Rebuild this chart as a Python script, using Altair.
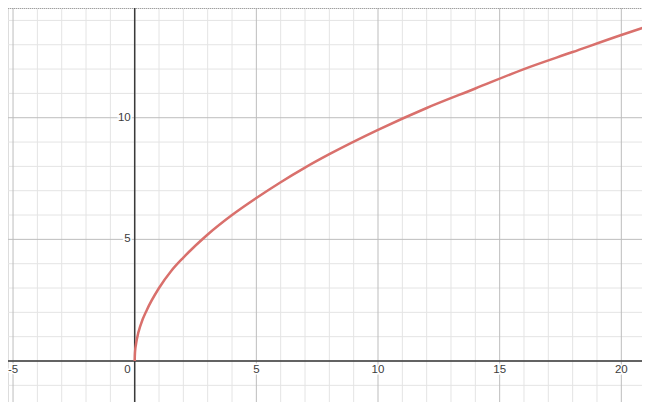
import altair as alt
import pandas as pd

# Curve points
curve_x = [0, 0.005, 0.02, 0.05, 0.1, 0.25, 0.5, 1, 1.5, 2, 3, 4, 5, 6, 7, 8, 10, 12, 14, 16, 18, 20, 21.2]
curve_y = [0, 0.2, 0.45, 0.67, 0.95, 1.5, 2.1, 3.0, 3.7, 4.25, 5.2, 6.0, 6.7, 7.35, 7.95, 8.5, 9.5, 10.4, 11.2, 12.0, 12.7, 13.4, 13.8]

x_tick_vals = [-5, 5, 10, 15, 20]
x_tick_labels = ["-5", "5", "10", "15", "20"]
y_tick_vals = [5, 10]
y_tick_labels = ["5", "10"]
origin_label = ["0"]

grid_x = list(range(-5, 21))
grid_y = list(range(-1, 15))

XDOM = [-5.207, 20.85]
YDOM = [-1.685, 14.51]

xs = alt.Scale(domain=XDOM, nice=False, zero=False)
ys = alt.Scale(domain=YDOM, nice=False, zero=False)

MAJOR = "#bdbdbd"
MINOR = "#e4e4e4"

gx_df = pd.DataFrame({"v": grid_x})
gy_df = pd.DataFrame({"v": grid_y})

def grid_color():
    return alt.condition("datum.v % 5 === 0", alt.value(MAJOR), alt.value(MINOR))

vgrid_minor = alt.Chart(gx_df).transform_filter("datum.v % 5 !== 0").mark_rule(strokeWidth=1, color=MINOR).encode(
    x=alt.X("v:Q", scale=xs, axis=None))
hgrid_minor = alt.Chart(gy_df).transform_filter("datum.v % 5 !== 0").mark_rule(strokeWidth=1, color=MINOR).encode(
    y=alt.Y("v:Q", scale=ys, axis=None))
vgrid_major = alt.Chart(gx_df).transform_filter("datum.v % 5 === 0").mark_rule(strokeWidth=1, color=MAJOR).encode(
    x=alt.X("v:Q", scale=xs, axis=None))
hgrid_major = alt.Chart(gy_df).transform_filter("datum.v % 5 === 0").mark_rule(strokeWidth=1, color=MAJOR).encode(
    y=alt.Y("v:Q", scale=ys, axis=None))

axes_df = pd.DataFrame({"v": [0]})
x_axis_line = alt.Chart(axes_df).mark_rule(color="#3a3a3a", strokeWidth=1.5).encode(
    y=alt.Y("v:Q", scale=ys, axis=None)
)
y_axis_line = alt.Chart(axes_df).mark_rule(color="#3a3a3a", strokeWidth=1.5).encode(
    x=alt.X("v:Q", scale=xs, axis=None)
)

top_border = alt.Chart(axes_df).mark_rule(color="#a0a0a0", strokeDash=[1, 1], strokeWidth=1).encode(
    y=alt.value(0.5), x=alt.value(0), x2=alt.value(634)
)

xt_df = pd.DataFrame({"x": x_tick_vals, "t": x_tick_labels, "y": [0] * len(x_tick_vals)})
yt_df = pd.DataFrame({"y": y_tick_vals, "t": y_tick_labels, "x": [0] * len(y_tick_vals)})
o_df = pd.DataFrame({"x": [0], "y": [0], "t": origin_label})

font = "Liberation Sans"
fs = 11.5
tc = "#3c3c3c"

def text_layer(df, halo, **kw):
    kw.update(font=font, fontSize=fs)
    if halo:
        kw.update(stroke="white", strokeWidth=3, color="white")
    else:
        kw.update(color=tc)
    return alt.Chart(df).mark_text(**kw).encode(
        x=alt.X("x:Q", scale=xs, axis=None), y=alt.Y("y:Q", scale=ys, axis=None), text="t:N")

def xlabels(halo):
    return text_layer(xt_df, halo, align="center", baseline="top", dy=3)

def ylabels(halo):
    return text_layer(yt_df, halo, align="right", baseline="middle", dx=-4)

def olabel(halo):
    return text_layer(o_df, halo, align="right", baseline="top", dx=-4, dy=3)

curve_df = pd.DataFrame({"x": curve_x, "y": curve_y})
curve = alt.Chart(curve_df).mark_line(color="#d9706c", strokeWidth=2.5, interpolate="monotone", clip=True).encode(
    x=alt.X("x:Q", scale=xs, axis=None),
    y=alt.Y("y:Q", scale=ys, axis=None),
)

chart = alt.layer(
    vgrid_minor, hgrid_minor, vgrid_major, hgrid_major, top_border,
    xlabels(True), ylabels(True), olabel(True),
    x_axis_line, y_axis_line,
    xlabels(False), ylabels(False), olabel(False),
    curve,
).properties(
    width=634, height=394, padding=0, autosize=alt.AutoSizeParams(type="none")
).configure_view(stroke=None).configure(background="white")

chart.save("out.html", embed_options={"renderer": "svg", "actions": False})
